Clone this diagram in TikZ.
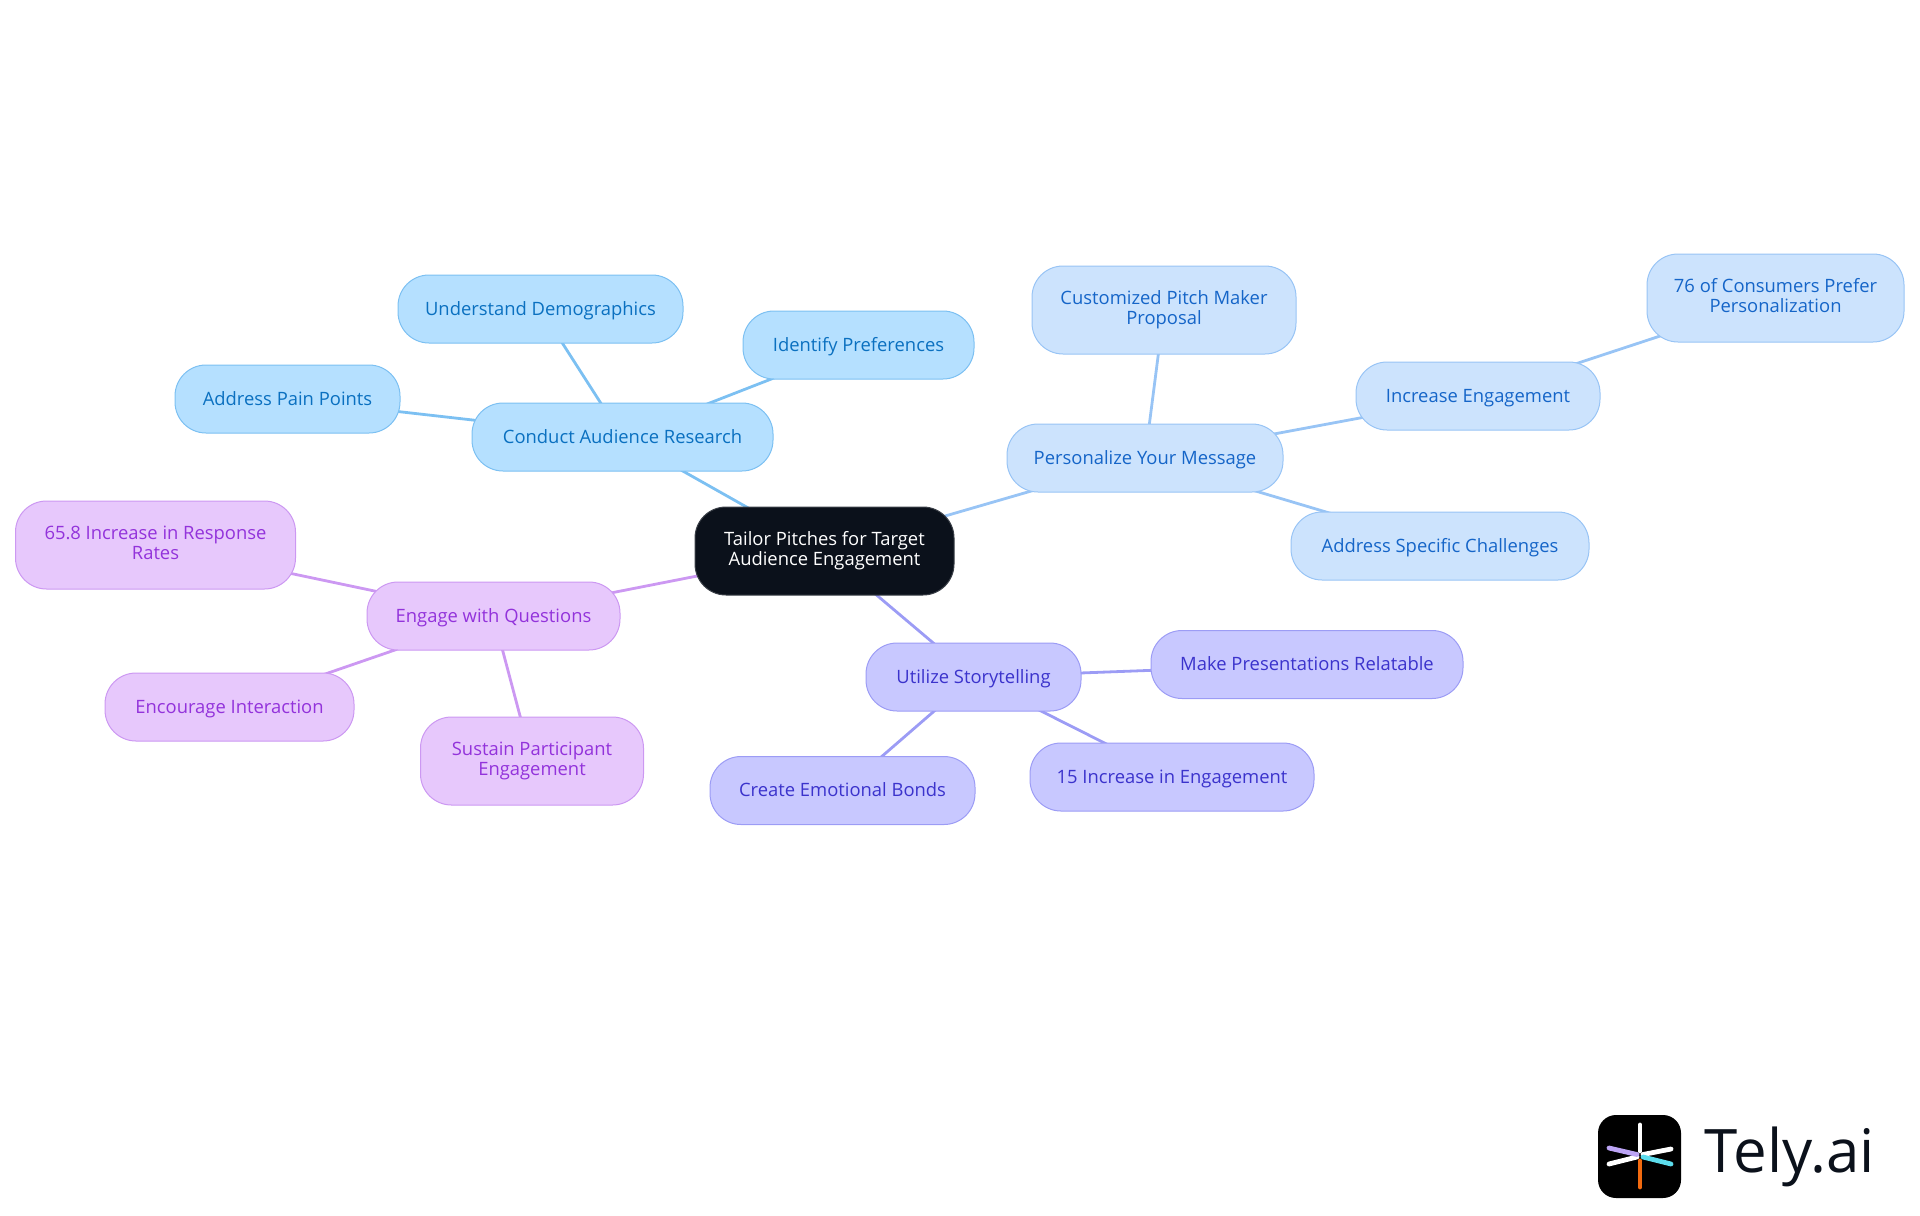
\documentclass[tikz,border=0pt]{standalone}
\usepackage{fontspec}
\setmainfont{Open Sans}
\usetikzlibrary{backgrounds}
\definecolor{mroot}{HTML}{0B111B}
\definecolor{mrootline}{HTML}{3A3F47}
\definecolor{mresearch}{HTML}{B5E0FF}
\definecolor{mresearchline}{HTML}{7CC0F2}
\definecolor{mresearchtext}{HTML}{0A70C0}
\definecolor{mmessage}{HTML}{CCE3FD}
\definecolor{mmessageline}{HTML}{98C4F5}
\definecolor{mmessagetext}{HTML}{1565C8}
\definecolor{mstory}{HTML}{C8C8FF}
\definecolor{mstoryline}{HTML}{9C9CF5}
\definecolor{mstorytext}{HTML}{3B33CC}
\definecolor{mquest}{HTML}{E7C8FC}
\definecolor{mquestline}{HTML}{CC98F2}
\definecolor{mquesttext}{HTML}{9333DB}
\definecolor{mpurple}{HTML}{BCA4F5}
\definecolor{mcyan}{HTML}{5CDCEC}
\definecolor{morange}{HTML}{F26A0F}
\newcommand{\topstrut}{\rule{0pt}{8.4pt}}
\newcommand{\lowstrut}{\rule[-2.2pt]{0pt}{2.2pt}}
\tikzset{
  mbox/.style={rounded corners=15.5pt, line width=0.5pt, outer sep=0pt, inner sep=0pt,
               align=center, font=\fontsize{9.2}{10}\selectfont,
               execute at begin node=\topstrut, execute at end node=\lowstrut},
  rootbox/.style={mbox, draw=mrootline, fill=mroot, text=white},
  rbox/.style={mbox, draw=mresearchline, fill=mresearch, text=mresearchtext},
  pbox/.style={mbox, draw=mmessageline, fill=mmessage, text=mmessagetext},
  sbox/.style={mbox, draw=mstoryline, fill=mstory, text=mstorytext},
  qbox/.style={mbox, draw=mquestline, fill=mquest, text=mquesttext},
  sized/.style 2 args={minimum width=#1*0.5pt, minimum height=#2*0.5pt},
  rlink/.style={line width=1.4pt, mresearchline},
  plink/.style={line width=1.4pt, mmessageline},
  slink/.style={line width=1.4pt, mstoryline},
  qlink/.style={line width=1.4pt, mquestline},
  ray/.style={line width=2.4pt, line cap=round},
}
\begin{document}
\begin{tikzpicture}[x=0.5pt, y=-0.5pt]
  \useasboundingbox (0,0) rectangle (1920,1215);

  \node[rootbox, sized={259}{88}] (root) at (824.5, 551) {Tailor Pitches for Target\\Audience Engagement};

  \node[rbox, sized={301}{68}] (research) at (622.5, 437) {Conduct Audience Research};
  \node[rbox, sized={285}{68}] (demo) at (540.5, 309) {Understand Demographics};
  \node[rbox, sized={231}{68}] (prefs) at (858.5, 345) {Identify Preferences};
  \node[rbox, sized={225}{68}] (pain) at (287.5, 399) {Address Pain Points};

  \node[pbox, sized={276}{68}] (message) at (1145, 458) {Personalize Your Message};
  \node[pbox, sized={264}{88}] (proposal) at (1164, 310) {Customized Pitch Maker\\Proposal};
  \node[pbox, sized={244}{68}] (engage) at (1478, 396) {Increase Engagement};
  \node[pbox, sized={257}{88}] (consumers) at (1775.5, 298) {76 of Consumers Prefer\\Personalization};
  \node[pbox, sized={298}{68}] (challenges) at (1440, 546) {Address Specific Challenges};

  \node[sbox, sized={215}{68}] (story) at (973.5, 677) {Utilize Storytelling};
  \node[sbox, sized={312}{68}] (relatable) at (1307, 664.5) {Make Presentations Relatable};
  \node[sbox, sized={284}{68}] (fifteen) at (1172, 777) {15 Increase in Engagement};
  \node[sbox, sized={265}{68}] (bonds) at (842.5, 790.5) {Create Emotional Bonds};

  \node[qbox, sized={253}{68}] (quest) at (493.5, 616) {Engage with Questions};
  \node[qbox, sized={280}{88}] (response) at (155.5, 545) {65.8 Increase in Response\\Rates};
  \node[qbox, sized={249}{68}] (interact) at (229.5, 707) {Encourage Interaction};
  \node[qbox, sized={223}{88}] (sustain) at (532, 761) {Sustain Participant\\Engagement};

  \begin{scope}[on background layer]
    \draw[rlink] (root.center) -- (research.center);
    \draw[rlink] (research.center) -- (demo.center);
    \draw[rlink] (research.center) -- (prefs.center);
    \draw[rlink] (research.center) -- (pain.center);
    \draw[plink] (root.center) -- (message.center);
    \draw[plink] (message.center) -- (proposal.center);
    \draw[plink] (message.center) -- (engage.center);
    \draw[plink] (engage.center) -- (consumers.center);
    \draw[plink] (message.center) -- (challenges.center);
    \draw[slink] (root.center) -- (story.center);
    \draw[slink] (story.center) -- (relatable.center);
    \draw[slink] (story.center) -- (fifteen.center);
    \draw[slink] (story.center) -- (bonds.center);
    \draw[qlink] (root.center) -- (quest.center);
    \draw[qlink] (quest.center) -- (response.center);
    \draw[qlink] (quest.center) -- (interact.center);
    \draw[qlink] (quest.center) -- (sustain.center);
  \end{scope}

  % logo
  \fill[black, rounded corners=9pt] (1598,1115) rectangle (1681,1198);
  \draw[ray, white] (1640,1151) -- (1640,1125);
  \draw[ray, white] (1643,1154.5) -- (1671,1149);
  \draw[ray, white] (1637,1157) -- (1609,1164);
  \draw[ray, mpurple] (1637,1154.5) -- (1609,1148);
  \draw[ray, mcyan] (1643,1157) -- (1671,1164);
  \draw[ray, morange] (1640,1161) -- (1640,1187);
  \node[inner sep=0pt, text=mroot, font=\fontsize{30}{30}\selectfont] (brand) at (1789.5,1157) {Tely.ai};
\end{tikzpicture}
\end{document}
